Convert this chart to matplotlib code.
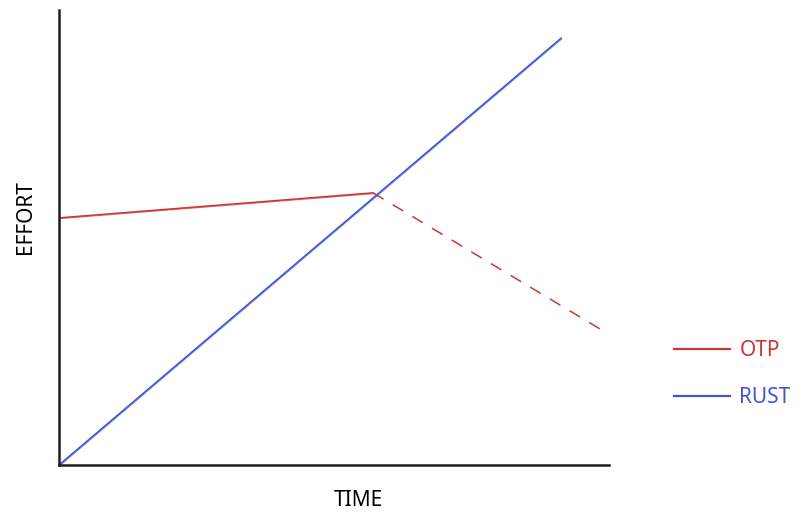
import matplotlib
matplotlib.use("Agg")
import matplotlib.pyplot as plt
import matplotlib.transforms as mtransforms

# chart values (arbitrary time / effort units)
otp_time = [0.0, 5.71]
otp_effort = [5.43, 5.98]
otp_future_time = [5.71, 9.96]
otp_future_effort = [5.98, 2.90]
rust_time = [0.0, 9.13]
rust_effort = [0.0, 9.38]

red = "#d03434"
blue = "#3f55d4"

plt.rcParams["font.family"] = ["Noto Sans", "DejaVu Sans"]

fig = plt.figure(figsize=(8.04, 5.23), dpi=100)
ax = fig.add_axes([0.0734, 0.111, 0.684, 0.87])


def sketch(x, y, color, double=True, **kw):
    # two slightly offset strokes for a hand-drawn look
    line, = ax.plot(x, y, color=color, lw=1.1, **kw)
    if double:
        shifted = mtransforms.offset_copy(ax.transData, fig=fig, x=0.6, y=-0.8, units="dots")
        ax.plot(x, y, color=color, lw=0.8, alpha=0.7, transform=shifted, **kw)
    return line


l_otp = sketch(otp_time, otp_effort, red)
sketch(otp_future_time, otp_future_effort, red, double=False, linestyle=(0, (8, 7)))
l_rust = sketch(rust_time, rust_effort, blue)

ax.set_xlim(0, 10)
ax.set_ylim(0, 10)
ax.set_xticks([])
ax.set_yticks([])
for s in ["top", "right"]:
    ax.spines[s].set_visible(False)
for s in ["left", "bottom"]:
    ax.spines[s].set_linewidth(1.8)
    ax.spines[s].set_color("#1e1e1e")

ax.set_xlabel("TIME", fontsize=15)
ax.set_ylabel("EFFORT", fontsize=15)
ax.xaxis.set_label_coords(0.545, -0.054)
ax.yaxis.set_label_coords(-0.042, 0.545)

leg = fig.legend([l_otp, l_rust], ["OTP", "RUST"], loc="center left",
                 bbox_to_anchor=(0.838, 0.284), frameon=False, fontsize=15,
                 handlelength=2.7, handletextpad=0.45, labelspacing=1.25,
                 borderaxespad=0, borderpad=0, labelcolor="linecolor")
for h in leg.get_lines():
    h.set_linewidth(1.6)

fig.savefig("out.png", dpi=100)
